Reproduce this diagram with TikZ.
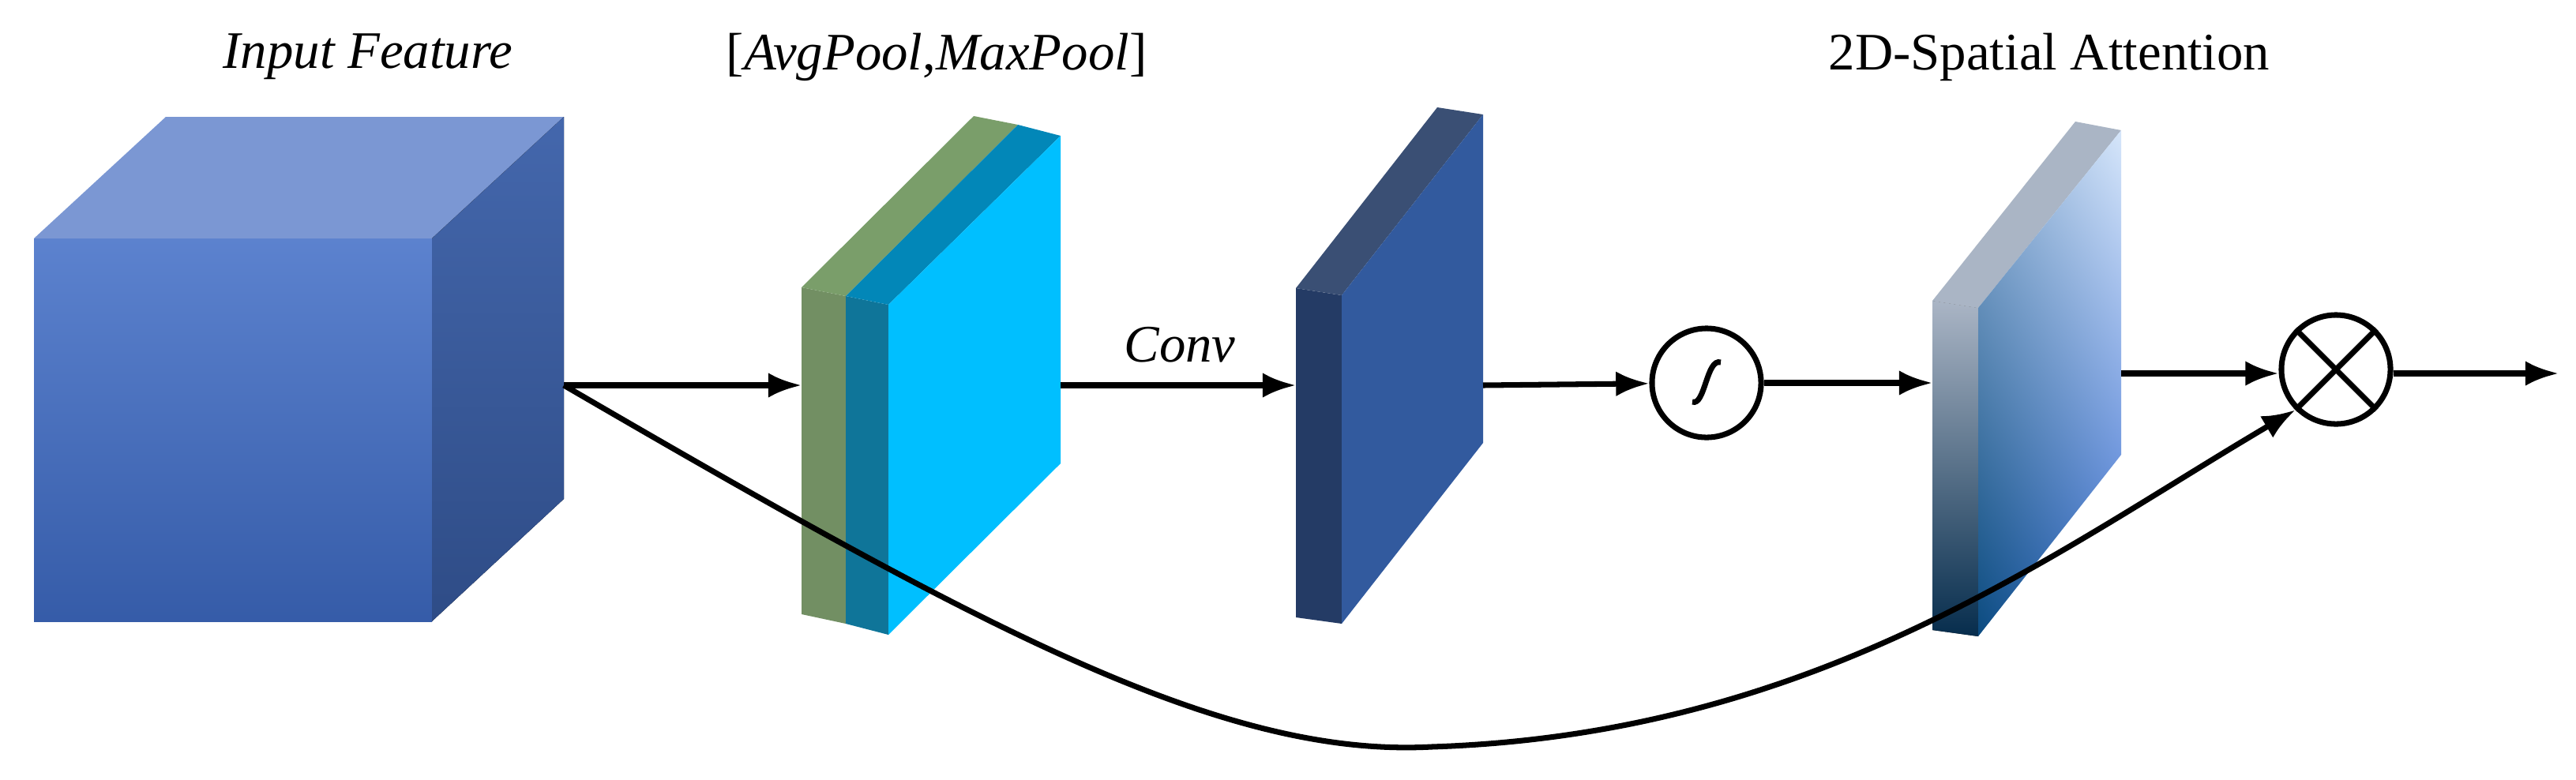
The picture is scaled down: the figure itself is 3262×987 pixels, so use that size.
\documentclass[tikz,border=0pt]{standalone}
\usepackage{fontspec}
\setmainfont{Liberation Serif}
\usetikzlibrary{positioning,arrows.meta,shadings}

\definecolor{cubefront}{HTML}{3F6CC6}
\definecolor{cubetop}{HTML}{7B97D3}
\definecolor{cubeside}{HTML}{3A5FA8}
\definecolor{poolgreen}{HTML}{728F63}
\definecolor{poolgreentop}{HTML}{7A9E6A}
\definecolor{poolteal}{HTML}{0F7599}
\definecolor{poolcyan}{HTML}{00BFFF}
\definecolor{poolcyantop}{HTML}{0287B8}
\definecolor{convfront}{HTML}{243B65}
\definecolor{convside}{HTML}{325A9E}
\definecolor{attgray}{HTML}{AAB5C5}
\definecolor{attlight}{HTML}{D6E6FA}
\definecolor{attmid}{HTML}{8FB0D6}
\definecolor{attdeep}{HTML}{0B4B80}
\definecolor{attlow}{HTML}{3C6FD0}

\tikzset{
  flow/.style={line width=2pt, -{Latex[length=12pt,width=9pt]}},
  op/.style={circle, draw, line width=2pt, minimum size=1.38cm, inner sep=0pt},
  title/.style={font=\fontsize{19}{22}\selectfont},
}

\begin{document}
\begin{tikzpicture}[x=0.01cm, y=-0.01cm]
\useasboundingbox (0,0) rectangle (3262,987);

% input cube
\fill[top color=cubefront!85!white, bottom color=cubefront!85!black] (43,302) rectangle (547,787);
\fill[cubetop] (43,302) -- (210,148) -- (714,148) -- (547,302) -- cycle;
\fill[top color=cubeside!95!white, bottom color=cubeside!80!black] (547,302) -- (714,148) -- (714,632) -- (547,787) -- cycle;
\node[title, font=\fontsize{19}{22}\selectfont\itshape] (inlabel) at (466,72) {Input Feature};

% pooled maps
\fill[poolgreen] (1015,364) -- (1071,375) -- (1071,790) -- (1015,778) -- cycle;
\fill[poolgreentop] (1015,364) -- (1233,147) -- (1289,158) -- (1071,375) -- cycle;
\fill[poolteal] (1071,375) -- (1125,386) -- (1125,804) -- (1071,790) -- cycle;
\fill[poolcyantop] (1071,375) -- (1289,158) -- (1343,172) -- (1125,386) -- cycle;
\fill[poolcyan] (1125,386) -- (1343,172) -- (1343,587) -- (1125,804) -- cycle;
\node[title] (poollabel) at (1186,72) {[\textit{AvgPool},\textit{MaxPool}]};

% conv map
\fill[convfront] (1641,365) -- (1699,374) -- (1699,790) -- (1641,782) -- cycle;
\fill[convfront!90!white] (1641,365) -- (1820,136) -- (1878,145) -- (1699,374) -- cycle;
\fill[convside] (1699,374) -- (1878,145) -- (1878,561) -- (1699,790) -- cycle;

% attention map
\fill[top color=attgray, bottom color=attdeep!60!black] (2447,381) -- (2505,390) -- (2505,806) -- (2447,798) -- cycle;
\fill[attgray] (2447,381) -- (2628,154) -- (2686,165) -- (2505,390) -- cycle;
\shade[upper right=attlight, upper left=attmid,
       lower right=attlow, lower left=attdeep]
  (2505,390) -- (2686,165) -- (2686,576) -- (2505,806) -- cycle;
\node[title] (attlabel) at (2595,72) {2D-Spatial Attention};

% anchors and operators
\coordinate (cubeout) at (714,488);
\coordinate (poolin) at (1015,488);
\coordinate (poolout) at (1343,488);
\node[font=\fontsize{19}{22}\selectfont\itshape] (convlabel) at (1494,437) {Conv};
\coordinate (convin) at (1641,488);
\coordinate (convout) at (1878,488);
\node[op] (sig) at (2161,485) {};
\draw[line width=2pt] ([shift={(-18,24)}]sig.center) .. controls ([shift={(-2,30)}]sig.center) and ([shift={(0,-32)}]sig.center) .. ([shift={(18,-26)}]sig.center);
\coordinate (attin) at (2447,485);
\coordinate (attout) at (2686,473);
\node[op] (mul) at (2958,468) {};
\draw[line width=2pt] (mul.north west) -- (mul.south east) (mul.north east) -- (mul.south west);
\coordinate (outend) at (3240,473);

% connectors
\draw[flow] (cubeout) -- (poolin);
\draw[flow] (poolout) -- (convin);
\draw[flow] (convout) -- (sig);
\draw[flow] (sig) -- (attin);
\draw[flow] (attout) -- (mul.west |- attout);
\draw[flow] (mul.east |- outend) -- (outend);
\draw[flow] (cubeout) .. controls (1250,800) and (1550,960) .. (1813,946)
  .. controls (2300,930) and (2600,700) .. (mul.south west);
\end{tikzpicture}
\end{document}
